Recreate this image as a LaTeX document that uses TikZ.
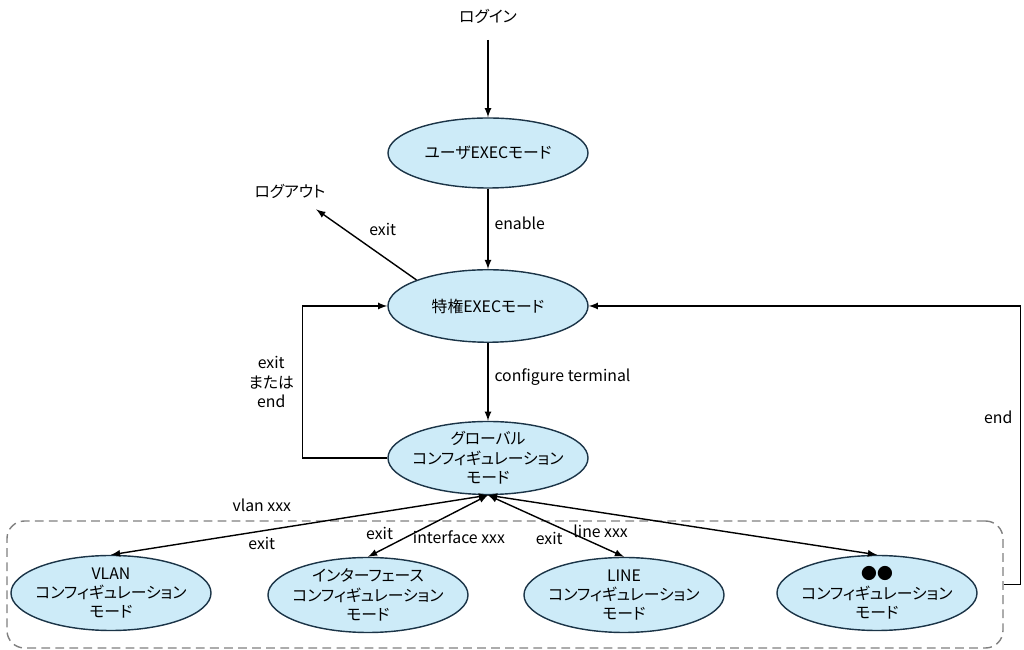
\documentclass[tikz,border=0pt]{standalone}
\usepackage{fontspec}
\setmainfont{Noto Sans CJK JP}[RawFeature={+palt}]
\usepackage{tikz}
\usetikzlibrary{arrows,shapes.geometric,positioning}
\definecolor{modefill}{HTML}{CDEBF8}
\definecolor{modeline}{HTML}{1B3447}

\begin{document}
\begin{tikzpicture}[>=latex,
  mode/.style={ellipse,draw=modeline,thick,fill=modefill,minimum width=4cm,
    minimum height=1.45cm,inner xsep=-3.5pt,inner ysep=-4pt,align=center,
    font=\fontsize{9}{11}\selectfont},
  sub/.style={mode,minimum height=1.5cm},
  txt/.style={font=\fontsize{9}{11}\selectfont},
  lab/.style={font=\fontsize{9}{11}\selectfont,align=center},
  tr/.style={->,thick},
  both/.style={<->,thick}]
  \useasboundingbox (0,0) rectangle (20.48,-13);
  \node[txt] (login) at (9.76,-0.32) {ログイン};
  \node[mode,minimum height=1.4cm] (user) at (9.76,-3.06) {ユーザEXECモード};
  \node[mode] (priv) at (9.76,-6.12) {特権EXECモード};
  \node[mode,minimum height=1.46cm] (glob) at (9.76,-9.16) {グローバル\\コンフィギュレーション\\モード};
  \node[txt] (logout) at (5.8,-3.82) {ログアウト};
  \node[draw=gray,thick,dashed,dash pattern=on 5pt off 3pt,rounded corners=0.35cm,
    minimum width=19.92cm,minimum height=2.54cm] (grp) at (10.1,-11.69) {};
  \node[sub] (vlan) at (2.22,-11.86) {VLAN\\コンフィギュレーション\\モード};
  \node[sub] (intf) at (7.36,-11.9) {インターフェース\\コンフィギュレーション\\モード};
  \node[sub] (line) at (12.48,-11.9) {LINE\\コンフィギュレーション\\モード};
  \node[sub] (other) at (17.54,-11.86) {●●\\コンフィギュレーション\\モード};

  \draw[tr] ([yshift=-6pt]login.south) -- (user);
  \draw[tr] (user) -- node[right,yshift=3pt,lab]{enable} (priv);
  \draw[tr,shorten >=5pt] (priv.160) -- node[midway,above right,lab]{exit} (logout);
  \draw[tr] (priv) -- node[right,yshift=3pt,lab]{configure terminal} (glob);
  \draw[tr] (glob.west) -- ++(-1.7,0) |- node[pos=0.25,left=1pt,lab]{exit\\または\\end} (priv.west);
  \draw[tr] (grp.east) -- ++(0.34,0) |- node[pos=0.3,left=1pt,lab]{end} (priv.east);
  % sub modes
  \draw[both] (glob.south) -- node[pos=0.6,above=7pt,lab]{vlan xxx}
    node[pos=0.6,below,lab]{exit} (vlan.north);
  \draw[both] (glob.south) -- node[pos=0.62,left=8pt,lab]{exit}
    node[pos=0.68,right,lab]{interface xxx} (intf.north);
  \draw[both] (glob.south) -- node[pos=0.7,left=8pt,lab]{exit}
    node[pos=0.58,right,lab]{line xxx} (line.north);
  \draw[both] (glob.south) -- (other.north);
\end{tikzpicture}
\end{document}
